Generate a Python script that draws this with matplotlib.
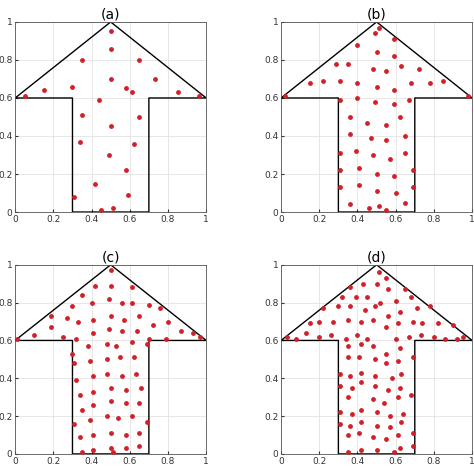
import matplotlib
matplotlib.use("Agg")
import matplotlib.pyplot as plt

outline_x = [0, 0.5, 1, 0.7, 0.7, 0.3, 0.3, 0]
outline_y = [0.6, 1, 0.6, 0.6, 0, 0, 0.6, 0.6]

a_pts = [(0.5,0.95),(0.5,0.86),(0.35,0.8),(0.65,0.8),(0.5,0.7),(0.73,0.7),(0.3,0.66),(0.15,0.64),(0.58,0.65),(0.61,0.63),(0.85,0.63),(0.05,0.61),(0.96,0.61),(0.44,0.59),(0.35,0.51),(0.65,0.5),(0.5,0.45),(0.34,0.37),(0.62,0.36),(0.49,0.3),(0.58,0.22),(0.42,0.15),(0.31,0.08),(0.59,0.09),(0.45,0.01),(0.51,0.02)]
b_pts = [(0.51,0.97),(0.49,0.94),(0.59,0.91),(0.4,0.88),(0.5,0.84),(0.59,0.82),(0.29,0.78),(0.35,0.78),(0.48,0.75),(0.55,0.74),(0.63,0.77),(0.72,0.75),(0.15,0.68),(0.22,0.69),(0.31,0.69),(0.4,0.68),(0.5,0.66),(0.59,0.64),(0.68,0.68),(0.78,0.68),(0.85,0.69),(0.02,0.61),(0.98,0.61),(0.31,0.59),(0.4,0.6),(0.49,0.58),(0.59,0.57),(0.67,0.59),(0.36,0.5),(0.45,0.47),(0.55,0.46),(0.62,0.5),(0.36,0.41),(0.47,0.39),(0.55,0.38),(0.65,0.4),(0.31,0.31),(0.39,0.32),(0.48,0.3),(0.57,0.28),(0.65,0.31),(0.31,0.22),(0.41,0.23),(0.5,0.2),(0.59,0.19),(0.69,0.22),(0.31,0.13),(0.41,0.14),(0.5,0.11),(0.6,0.1),(0.69,0.13),(0.36,0.04),(0.46,0.02),(0.51,0.03),(0.55,0.01),(0.65,0.05)]
c_pts = [(0.5,0.97),(0.42,0.89),(0.5,0.89),(0.61,0.88),(0.35,0.84),(0.49,0.82),(0.3,0.78),(0.4,0.8),(0.56,0.8),(0.61,0.8),(0.7,0.79),(0.76,0.77),(0.19,0.73),(0.27,0.72),(0.33,0.7),(0.41,0.71),(0.5,0.73),(0.57,0.71),(0.65,0.73),(0.8,0.7),(0.19,0.67),(0.49,0.66),(0.56,0.65),(0.64,0.65),(0.72,0.68),(0.1,0.63),(0.41,0.64),(0.87,0.65),(0.93,0.64),(0.01,0.61),(0.25,0.62),(0.32,0.61),(0.7,0.61),(0.79,0.61),(0.97,0.62),(0.38,0.57),(0.48,0.58),(0.53,0.57),(0.61,0.59),(0.69,0.58),(0.3,0.53),(0.31,0.48),(0.39,0.49),(0.48,0.5),(0.55,0.51),(0.62,0.51),(0.32,0.39),(0.41,0.41),(0.48,0.42),(0.56,0.41),(0.63,0.42),(0.34,0.31),(0.41,0.33),(0.5,0.35),(0.58,0.34),(0.66,0.35),(0.35,0.23),(0.41,0.26),(0.5,0.28),(0.58,0.27),(0.65,0.27),(0.31,0.16),(0.39,0.18),(0.48,0.2),(0.54,0.19),(0.61,0.2),(0.69,0.17),(0.34,0.09),(0.41,0.1),(0.5,0.11),(0.58,0.1),(0.65,0.11),(0.35,0.01),(0.41,0.02),(0.5,0.03),(0.51,0.01),(0.58,0.03),(0.65,0.04)]
d_pts = [(0.51,0.96),(0.55,0.93),(0.36,0.88),(0.43,0.9),(0.5,0.9),(0.56,0.87),(0.65,0.87),(0.32,0.83),(0.39,0.83),(0.45,0.83),(0.52,0.8),(0.6,0.81),(0.68,0.83),(0.22,0.77),(0.3,0.78),(0.36,0.78),(0.44,0.76),(0.49,0.78),(0.62,0.75),(0.71,0.77),(0.78,0.78),(0.15,0.69),(0.2,0.7),(0.27,0.7),(0.35,0.71),(0.42,0.7),(0.48,0.71),(0.56,0.73),(0.61,0.69),(0.69,0.7),(0.74,0.69),(0.82,0.69),(0.9,0.68),(0.03,0.62),(0.08,0.61),(0.13,0.64),(0.2,0.62),(0.26,0.63),(0.34,0.61),(0.4,0.63),(0.45,0.61),(0.55,0.67),(0.6,0.61),(0.67,0.62),(0.73,0.63),(0.8,0.62),(0.86,0.61),(0.92,0.61),(0.95,0.62),(0.35,0.57),(0.42,0.58),(0.48,0.57),(0.55,0.53),(0.62,0.56),(0.35,0.51),(0.41,0.51),(0.49,0.5),(0.55,0.48),(0.61,0.49),(0.69,0.51),(0.31,0.42),(0.36,0.41),(0.42,0.43),(0.49,0.41),(0.58,0.4),(0.63,0.42),(0.31,0.36),(0.37,0.35),(0.42,0.38),(0.49,0.36),(0.56,0.34),(0.62,0.35),(0.35,0.3),(0.48,0.29),(0.54,0.27),(0.61,0.3),(0.68,0.31),(0.31,0.22),(0.37,0.21),(0.42,0.23),(0.5,0.22),(0.57,0.2),(0.64,0.21),(0.31,0.16),(0.36,0.15),(0.42,0.17),(0.5,0.15),(0.57,0.14),(0.63,0.17),(0.35,0.1),(0.41,0.11),(0.48,0.09),(0.55,0.08),(0.61,0.1),(0.69,0.11),(0.35,0.01),(0.42,0.02),(0.5,0.02),(0.59,0.01),(0.62,0.03),(0.69,0.04)]

titles = ["(a)", "(b)", "(c)", "(d)"]
panels = [a_pts, b_pts, c_pts, d_pts]
ticks = [0, 0.2, 0.4, 0.6, 0.8, 1]
tick_labels = ["0", "0.2", "0.4", "0.6", "0.8", "1"]

fig = plt.figure(figsize=(4.74, 4.67), dpi=100)
rects = [[0.032, 0.546, 0.403, 0.407], [0.593, 0.546, 0.403, 0.407],
         [0.032, 0.028, 0.403, 0.405], [0.593, 0.028, 0.403, 0.405]]
for r, t, pts in zip(rects, titles, panels):
    ax = fig.add_axes(r)
    ax.plot(outline_x, outline_y, color="black", lw=1.0)
    ax.scatter([p[0] for p in pts], [p[1] for p in pts], s=6, color="#d0202a", zorder=3)
    ax.set_xlim(0, 1); ax.set_ylim(0, 1)
    ax.set_xticks(ticks); ax.set_xticklabels(tick_labels)
    ax.set_yticks(ticks); ax.set_yticklabels(tick_labels)
    ax.tick_params(labelsize=6.5, colors="#333333", direction="in", length=2, pad=2)
    ax.grid(True, color="#e3e3e3", lw=0.6)
    ax.set_axisbelow(True)
    for s in ax.spines.values():
        s.set_color("#555555"); s.set_linewidth(0.6)
    ax.set_title(t, fontsize=10, pad=2)
fig.savefig("out.png", dpi=100)
